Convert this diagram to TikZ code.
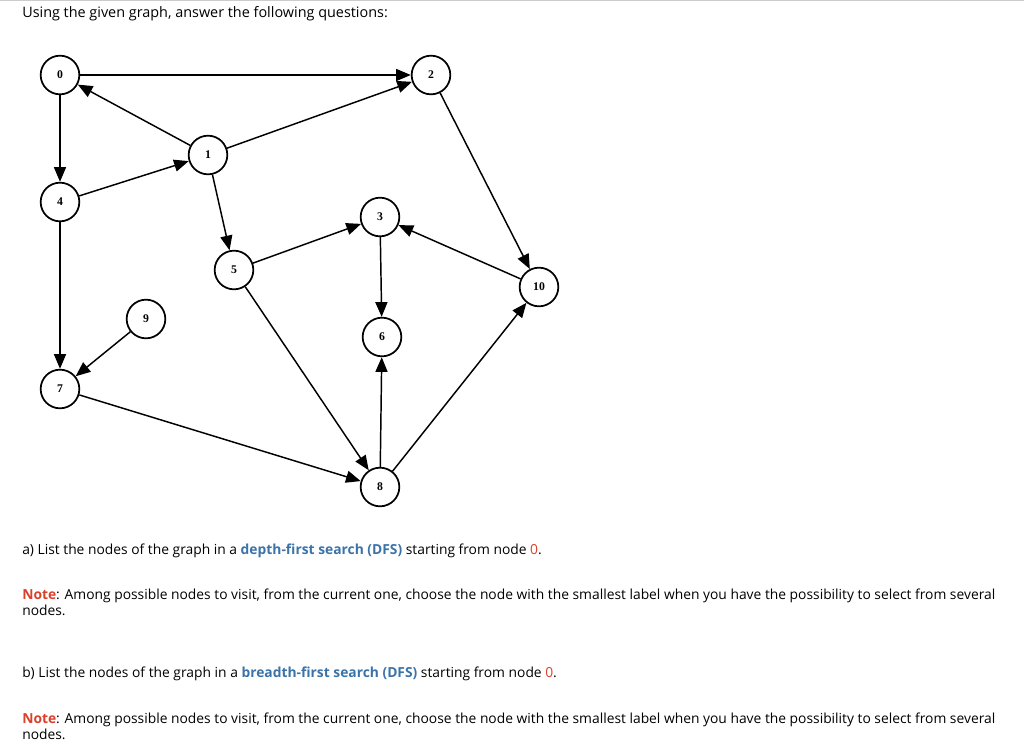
\documentclass[tikz,border=0pt]{standalone}
\usepackage{fontspec}
\setmainfont{Open Sans}
\newfontfamily\numfont{Liberation Serif}
\usetikzlibrary{arrows.meta}
\definecolor{kblue}{HTML}{3B73A8}
\definecolor{kred}{HTML}{D9412B}
\begin{document}
\begin{tikzpicture}[x=0.75pt,y=-0.75pt,
  vtx/.style={circle,draw,line width=1.3pt,minimum size=29pt,inner sep=0pt,font=\numfont\bfseries\fontsize{8.8}{9}\selectfont},
  edge/.style={line width=1.1pt,-{Triangle[length=11pt,width=9pt]}},
  txt/.style={anchor=base west,inner sep=0pt,font=\fontsize{10.37}{12}\selectfont}]
\useasboundingbox (0,0) rectangle (1024,747);
\draw[gray!40,line width=0.6pt] (0,0.5) -- (1024,0.5);
\node[txt,font=\fontsize{10.8}{12}\selectfont] (h) at (22,17) {Using the given graph, answer the following questions:};
\node[vtx] (n0) at (60,75) {0};
\node[vtx] (n2) at (431,75) {2};
\node[vtx] (n1) at (208,155) {1};
\node[vtx] (n4) at (60,202) {4};
\node[vtx] (n3) at (380,217) {3};
\node[vtx] (n5) at (234,270) {5};
\node[vtx] (n10) at (539,287) {10};
\node[vtx] (n9) at (146,319) {9};
\node[vtx] (n6) at (382,337) {6};
\node[vtx] (n7) at (60,389) {7};
\node[vtx] (n8) at (380,487) {8};
\draw[edge] (n0)--(n2);
\draw[edge] (n1)--(n0);
\draw[edge] (n1)--(n2);
\draw[edge] (n0)--(n4);
\draw[edge] (n4)--(n1);
\draw[edge] (n1)--(n5);
\draw[edge] (n5)--(n3);
\draw[edge] (n3)--(n6);
\draw[edge] (n10)--(n3);
\draw[edge] (n2)--(n10);
\draw[edge] (n8)--(n6);
\draw[edge] (n8)--(n10);
\draw[edge] (n5)--(n8);
\draw[edge] (n7)--(n8);
\draw[edge] (n4)--(n7);
\draw[edge] (n9)--(n7);
\node[txt] (a) at (22,554) {a) List the nodes of the graph in a \textcolor{kblue}{\bfseries depth-first search (DFS)} starting from node \textcolor{kred}{0}.};
\node[txt] (na1) at (22,599) {\textcolor{kred}{\bfseries Note}: Among possible nodes to visit, from the current one, choose the node with the smallest label when you have the possibility to select from several};
\node[txt] (na2) at (22,615) {nodes.};
\node[txt] (b) at (22,677) {b) List the nodes of the graph in a \textcolor{kblue}{\bfseries breadth-first search (DFS)} starting from node \textcolor{kred}{0}.};
\node[txt] (nb1) at (22,723) {\textcolor{kred}{\bfseries Note}: Among possible nodes to visit, from the current one, choose the node with the smallest label when you have the possibility to select from several};
\node[txt] (nb2) at (22,739) {nodes.};
\end{tikzpicture}
\end{document}
